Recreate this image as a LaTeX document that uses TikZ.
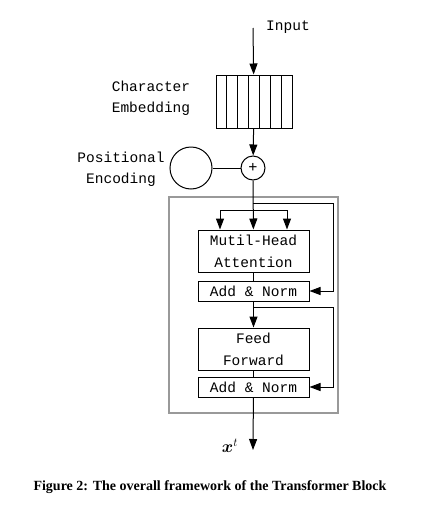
\documentclass[tikz,border=0pt]{standalone}
\usepackage{fontspec}
\setmainfont{Liberation Serif}
\setmonofont{Liberation Mono}
\usepackage{amsmath}
\usetikzlibrary{arrows.meta,positioning}

\begin{document}
\begin{tikzpicture}[x=1pt,y=-1pt,line width=1pt,>={Triangle[length=11pt,width=8pt]}]
    \tikzstyle{block}=[draw,rectangle,minimum width=111pt,inner sep=0pt,align=center,font=\ttfamily\fontsize{14.5}{22}\selectfont]
    \tikzstyle{big block}=[block,minimum height=42pt]
    \tikzstyle{norm block}=[block,minimum height=20pt]
    \tikzstyle{annot}=[align=center,font=\ttfamily\fontsize{14.5}{21}\selectfont]
    \useasboundingbox (0,0) rectangle (445,512);

    % Draw the embedding and the encoding
    \node[draw,rectangle,minimum width=76pt,minimum height=53pt,inner sep=0pt] (emb) at (254,101.5) {};
    \foreach \i in {1,...,6}
        \draw ({216+\i*76/7},75) -- ({216+\i*76/7},128);
    \node[draw,circle,minimum size=24pt,inner sep=0pt,font=\bfseries\fontsize{16}{16}\selectfont] (plus) at (253,168) {+};
    \node[draw,circle,minimum size=42pt,inner sep=0pt] (pe) at (191,168) {};
    \coordinate (in) at (253,28);

    % Draw the transformer block
    \draw[gray!80,line width=1.5pt] (169,197) rectangle (338,413);
    \node[big block] (mha) at (253.5,251) {Mutil-Head\\Attention};
    \node[norm block] (an1) at (253.5,291) {Add \& Norm};
    \node[big block] (ff) at (253.5,349) {Feed\\Forward};
    \node[norm block] (an2) at (253.5,387) {Add \& Norm};
    \coordinate (out) at (253,450);

    % Connect the nodes
    \draw[->] (in) -- (emb);
    \draw[->] (emb) -- (plus);
    \draw (pe) -- (plus);
    \draw[->] (plus) -- (mha);
    \coordinate (s1) at (253,203);
    \coordinate (r1) at (333,203);
    \coordinate (h1) at (220,210);
    \coordinate (h3) at (287,210);
    \draw (h1) -- (h3);
    \foreach \h in {h1,h3}
        \draw[->] (\h) -- (\h |- mha.north);
    \draw[->] (s1) -- (r1) |- (an1);
    \draw (mha) -- (an1);
    \draw[->] (an1) -- (ff);
    \coordinate (s2) at (253,307);
    \coordinate (r2) at (333,307);
    \draw[->] (s2) -- (r2) |- (an2);
    \draw (ff) -- (an2);
    \draw[->] (an2) -- (out);

    % Annotate
    \node[annot] (inl) at (288,27) {Input};
    \node[annot] (embl) at (151,98) {Character\\Embedding};
    \node[annot] (pel) at (121,169) {Positional\\Encoding};
    \node[font=\fontsize{17}{17}\selectfont] (xt) at (230,446) {$\boldsymbol{x}^{t}$};
    \node[font=\bfseries\fontsize{14}{16}\selectfont] (cap) at (210,487) {Figure 2: The overall framework of the Transformer Block};
\end{tikzpicture}
\end{document}
